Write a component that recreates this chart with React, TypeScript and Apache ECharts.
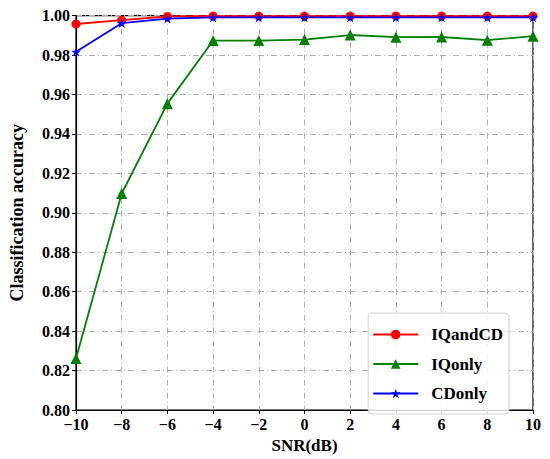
import React, { useEffect, useRef } from 'react'
import * as echarts from 'echarts'

const snr = [-10, -8, -6, -4, -2, 0, 2, 4, 6, 8, 10]
const iqAndCd = [0.9958, 0.9978, 0.9996, 0.9998, 0.9998, 0.9998, 0.9998, 0.9998, 0.9998, 0.9998, 0.9998]
const iqOnly = [0.8261, 0.9098, 0.9554, 0.9874, 0.9874, 0.9879, 0.9902, 0.9891, 0.9892, 0.9876, 0.9896]
const cdOnly = [0.9817, 0.9962, 0.9985, 0.9991, 0.9991, 0.9991, 0.9991, 0.9991, 0.9991, 0.9991, 0.9991]

const STAR =
  'path://M0,-100 L22.45,-30.9 L95.1,-30.9 L36.3,11.8 L58.8,80.9 L0,38.2 L-58.8,80.9 L-36.3,11.8 L-95.1,-30.9 L-22.45,-30.9 Z'

const FONT = '"Liberation Serif", "Times New Roman", serif'

const pair = (ys: number[]) => snr.map((x, i) => [x, ys[i]])

const App: React.FC = () => {
  const chartRef = useRef<HTMLDivElement>(null)

  useEffect(() => {
    if (!chartRef.current) return
    document.body.style.margin = '0'
    const chart = echarts.init(chartRef.current, null, { renderer: 'svg' })

    const dashDot = { color: '#b0b0b0', width: 1, type: [6, 3, 1, 3] as any }

    const option = {
      animation: false,
      backgroundColor: '#fff',
      grid: {
        left: 68,
        right: 17,
        top: 15.7,
        bottom: 47.3,
        show: true,
        borderColor: '#000',
        borderWidth: 1.2,
        backgroundColor: 'transparent'
      },
      legend: {
        orient: 'vertical',
        right: 41,
        top: 313,
        itemWidth: 45,
        itemHeight: 12,
        itemGap: 12.5,
        padding: [13, 6, 12, 4],
        borderColor: '#d0d0d0',
        borderWidth: 1,
        borderRadius: 4,
        backgroundColor: 'rgba(255,255,255,0.85)',
        textStyle: {
          fontFamily: FONT,
          fontWeight: 'bold',
          fontSize: 17,
          color: '#000',
          padding: [0, 0, 0, 8]
        },
        data: ['IQandCD', 'IQonly', 'CDonly']
      },
      xAxis: {
        type: 'value',
        min: -10,
        max: 10,
        interval: 2,
        name: 'SNR(dB)',
        nameLocation: 'middle',
        nameGap: 27,
        nameTextStyle: { fontFamily: FONT, fontWeight: 'bold', fontSize: 17, color: '#000' },
        axisLine: { show: true, onZero: false, lineStyle: { color: '#000', width: 1.2 } },
        axisTick: { show: true, length: 4, lineStyle: { color: '#000' } },
        axisLabel: {
          fontFamily: FONT,
          fontWeight: 'bold',
          fontSize: 16,
          color: '#000',
          margin: 6,
          formatter: (v: number) => String(v).replace('-', '\u2212')
        },
        splitLine: { show: true, lineStyle: dashDot }
      },
      yAxis: {
        type: 'value',
        min: 0.8,
        max: 1.0,
        interval: 0.02,
        name: 'Classification accuracy',
        nameLocation: 'middle',
        nameGap: 50,
        nameTextStyle: { fontFamily: FONT, fontWeight: 'bold', fontSize: 18, color: '#000' },
        axisLine: { show: true, onZero: false, lineStyle: { color: '#000', width: 1.2 } },
        axisTick: { show: true, length: 4, lineStyle: { color: '#000' } },
        axisLabel: {
          fontFamily: FONT,
          fontWeight: 'bold',
          fontSize: 16,
          color: '#000',
          margin: 6,
          formatter: (v: number) => v.toFixed(2)
        },
        splitLine: { show: true, lineStyle: dashDot }
      },
      series: [
        {
          name: 'IQandCD',
          type: 'line',
          data: pair(iqAndCd),
          symbol: 'circle',
          symbolSize: 9,
          lineStyle: { color: '#ff0000', width: 1.8 },
          itemStyle: { color: '#ff0000' },
          clip: false
        },
        {
          name: 'IQonly',
          type: 'line',
          data: pair(iqOnly),
          symbol: 'triangle',
          symbolSize: 11,
          lineStyle: { color: '#008000', width: 1.8 },
          itemStyle: { color: '#008000' },
          clip: false
        },
        {
          name: 'CDonly',
          type: 'line',
          data: pair(cdOnly),
          symbol: STAR,
          symbolSize: 10,
          symbolKeepAspect: true,
          lineStyle: { color: '#0000ff', width: 1.8 },
          itemStyle: { color: '#0000ff' },
          clip: false
        }
      ]
    }

    chart.setOption(option as any)

    return () => {
      chart.dispose()
    }
  }, [])

  return <div ref={chartRef} style={{ width: '550px', height: '459px' }} />
}

export default App
